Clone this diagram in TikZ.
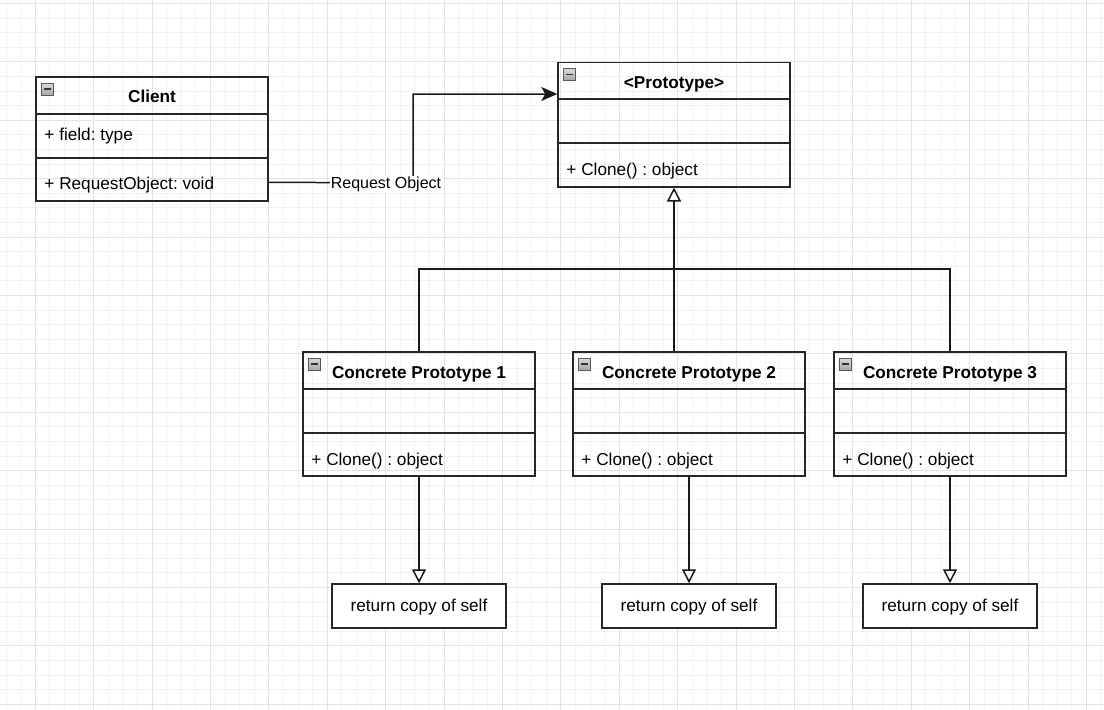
\documentclass[tikz,border=0pt]{standalone}
\usepackage{fontspec}
\setmainfont{Liberation Sans}
\frenchspacing
\usetikzlibrary{arrows.meta,calc}
\newcommand\clsicon[1]{%
  \shade[top color=gray!30, bottom color=gray!70, draw=gray!70!black, line width=0.9pt]
    ($(#1.north west)+(6.5,7)$) rectangle ($(#1.north west)+(18.5,19)$);
  \draw[line width=1.8pt, black!80] ($(#1.north west)+(9,13)$) -- ($(#1.north west)+(16,13)$);}
\newcommand\clsdividers[1]{%
  \draw[boxline] ($(#1.north west)+(0,37.5)$) -- ($(#1.north east)+(0,37.5)$);
  \draw[boxline] ($(#1.north west)+(0,81.5)$) -- ($(#1.north east)+(0,81.5)$);}
\begin{document}
\begin{tikzpicture}[x=1pt,y=-1pt,
  every node/.style={font=\fontsize{17.2}{20}\selectfont, inner sep=0pt, text=black},
  boxline/.style={draw=black!85, line width=1.5pt},
  clsbox/.style={boxline, minimum width=232pt, minimum height=124.5pt},
  retbox/.style={boxline, fill=white, minimum width=174pt, minimum height=44pt},
  ttl/.style={font=\fontsize{17.2}{20}\selectfont\bfseries, anchor=base},
  mem/.style={anchor=base west},
  minorgrid/.style={draw=black!5, line width=0.6pt},
  majorgrid/.style={draw=black!11, line width=0.6pt},
  conn/.style={draw=black!90, line width=1.5pt},
  inh/.style={conn, -{Triangle[length=14pt,width=14pt,fill=white]}},
  assoc/.style={conn, -{Stealth[length=16pt,width=14pt,inset=4pt]}},
]
\useasboundingbox (0,0) rectangle (1104,710);
\fill[white] (0,0) rectangle (1104,710);
% grid
\foreach \i in {0,...,75} \draw[minorgrid] ({5.8+\i*14.6},0) -- ({5.8+\i*14.6},710);
\foreach \i in {0,...,48} \draw[minorgrid] (0,{3.3+\i*14.6}) -- (1104,{3.3+\i*14.6});
\foreach \i in {0,...,18} \draw[majorgrid] ({35+\i*58.4},0) -- ({35+\i*58.4},710);
\foreach \i in {0,...,12} \draw[majorgrid] (0,{3.3+\i*58.4}) -- (1104,{3.3+\i*58.4});

% class boxes
\node[clsbox, minimum height=124pt] (client) at (152,139) {};
\node[clsbox] (proto) at (674,124.5) {};
\node[clsbox, minimum height=124pt] (c1) at (419,414) {};
\node[clsbox, minimum height=124pt] (c2) at (689,414) {};
\node[clsbox, minimum height=124pt] (c3) at (950,414) {};
\clsdividers{client}\clsdividers{proto}\clsdividers{c1}\clsdividers{c2}\clsdividers{c3}
\clsicon{client}\clsicon{proto}\clsicon{c1}\clsicon{c2}\clsicon{c3}

% class texts
\node[ttl] (clientT) at ($(client.north)+(0,26.5)$) {Client};
\node[mem] (clientA) at ($(client.north west)+(9,64.5)$) {+ field: type};
\node[mem] (clientM) at ($(client.north west)+(9,113.5)$) {+ RequestObject: void};

\node[ttl] (protoT) at ($(proto.north)+(0,26.8)$) {<Prototype>};
\node[mem] (protoM) at ($(proto.north west)+(9,113.8)$) {+ Clone() : object};

\node[ttl] (c1T) at ($(c1.north)+(0,26.8)$) {Concrete Prototype 1};
\node[mem] (c1M) at ($(c1.north west)+(9,113.8)$) {+ Clone() : object};
\node[ttl] (c2T) at ($(c2.north)+(0,26.8)$) {Concrete Prototype 2};
\node[mem] (c2M) at ($(c2.north west)+(9,113.8)$) {+ Clone() : object};
\node[ttl] (c3T) at ($(c3.north)+(0,26.8)$) {Concrete Prototype 3};
\node[mem] (c3M) at ($(c3.north west)+(9,113.8)$) {+ Clone() : object};

% return boxes
\node[retbox] (r1) at (419,606) {};
\node[retbox] (r2) at (689,606) {};
\node[retbox] (r3) at (950,606) {};
\node[anchor=base] (r1T) at ($(r1.center)+(0,5.8)$) {return copy of self};
\node[anchor=base] (r2T) at ($(r2.center)+(0,5.8)$) {return copy of self};
\node[anchor=base] (r3T) at ($(r3.center)+(0,5.8)$) {return copy of self};

% request connector
\coordinate (rqstart) at ($(client.north east)+(0,106)$);
\coordinate (rqturn) at (413,183);
\coordinate (rqtop) at (413,94);
\draw[assoc] (rqstart) -- (rqturn) -- (rqtop) -- (rqtop -| proto.west);
\node[fill=white, inner sep=0.5pt, anchor=base, font=\fontsize{16}{19}\selectfont] (rqlabel) at (386,188.3) {Request Object};

% inheritance
\coordinate (hub) at (674,269);
\coordinate (c2up) at (c2.north -| hub);
\draw[conn] (c3.north) |- (hub);
\draw[conn] (c2up) -- (hub);
\draw[inh] (c1.north) |- (hub) -- (proto.south);

% return arrows
\draw[inh] (c1.south) -- (r1.north);
\draw[inh] (c2.south) -- (r2.north);
\draw[inh] (c3.south) -- (r3.north);
\end{tikzpicture}
\end{document}
